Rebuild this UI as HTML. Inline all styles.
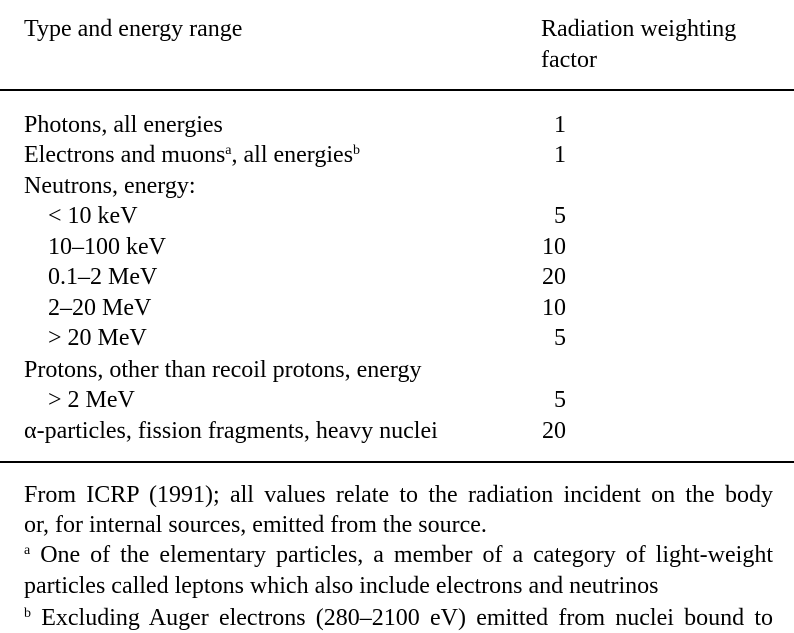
<!DOCTYPE html>
<html><head><meta charset="utf-8"><style>
body{margin:0;width:794px;height:630px;overflow:hidden;background:#fff;font-family:"Liberation Serif",serif;font-size:24px;color:#000}
.t{position:absolute;line-height:30px;height:30px;white-space:nowrap}
.n{position:absolute;line-height:30px;width:60px;text-align:right;left:506px}
.j{position:absolute;left:24px;width:749px;line-height:30px;height:30px;text-align:justify;text-align-last:justify;white-space:nowrap}
.r{position:absolute;left:0;width:794px;height:2px;background:#000}
sup{font-size:14px;vertical-align:8px;line-height:0}
</style></head><body>
<div class="t" style="left:24px;top:14px">Type and energy range</div>
<div class="t" style="left:541px;top:14px">Radiation weighting</div>
<div class="t" style="left:541px;top:45px">factor</div>
<div class="r" style="top:89px"></div>

<div class="t" style="left:24px;top:110px">Photons, all energies</div><div class="n" style="top:110px">1</div>
<div class="t" style="left:24px;top:140px">Electrons and muons<sup>a</sup>, all energies<sup>b</sup></div><div class="n" style="top:140px">1</div>
<div class="t" style="left:24px;top:171px">Neutrons, energy:</div>
<div class="t" style="left:48px;top:201px">&lt; 10 keV</div><div class="n" style="top:201px">5</div>
<div class="t" style="left:48px;top:232px">10–100 keV</div><div class="n" style="top:232px">10</div>
<div class="t" style="left:48px;top:262px">0.1–2 MeV</div><div class="n" style="top:262px">20</div>
<div class="t" style="left:48px;top:293px">2–20 MeV</div><div class="n" style="top:293px">10</div>
<div class="t" style="left:48px;top:323px">&gt; 20 MeV</div><div class="n" style="top:323px">5</div>
<div class="t" style="left:24px;top:355px">Protons, other than recoil protons, energy</div>
<div class="t" style="left:48px;top:385px">&gt; 2 MeV</div><div class="n" style="top:385px">5</div>
<div class="t" style="left:24px;top:416px">α-particles, fission fragments, heavy nuclei</div><div class="n" style="top:416px">20</div>
<div class="r" style="top:461px"></div>

<div class="j" style="top:480px">From ICRP (1991); all values relate to the radiation incident on the body</div>
<div class="t" style="left:24px;top:510px">or, for internal sources, emitted from the source.</div>
<div class="j" style="top:540px"><sup>a</sup> One of the elementary particles, a member of a category of light-weight</div>
<div class="t" style="left:24px;top:571px">particles called leptons which also include electrons and neutrinos</div>
<div class="j" style="top:603px"><sup>b</sup> Excluding Auger electrons (280–2100 eV) emitted from nuclei bound to</div>
</body></html>
